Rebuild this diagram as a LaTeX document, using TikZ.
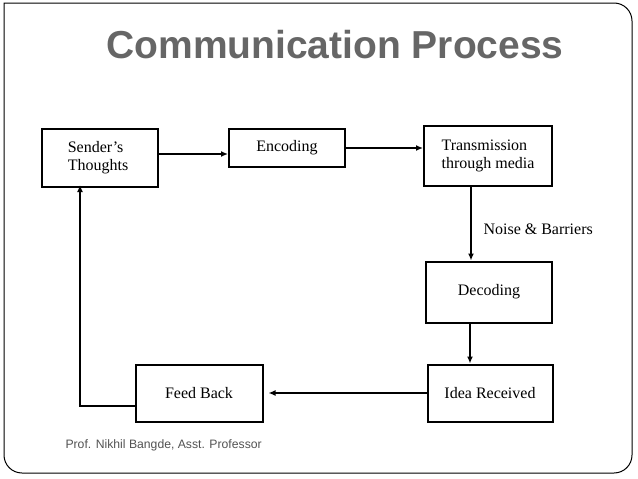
\documentclass[tikz,border=0pt]{standalone}
\usepackage{fontspec}
\setmainfont{Liberation Serif}
\newfontfamily\arial{Liberation Sans}
\usetikzlibrary{arrows.meta}
\definecolor{titlegray}{HTML}{666666}
\begin{document}
\begin{tikzpicture}[x=1pt,y=-1pt,
  boxn/.style={draw,line width=2pt,minimum width=#1,align=left,font=\fontsize{16}{18}\selectfont,inner sep=0pt},
  conn/.style={line width=1.4pt,-{Latex[length=7pt,width=6pt]}}]
\useasboundingbox (0,0) rectangle (638,479);
\draw[line width=1pt] (4,240) -- (4,3) -- (612,3) [rounded corners=18] -- (632,3) -- (632,473) -- (4,473) -- (4,240);
\node[font=\arial\bfseries\fontsize{39}{43}\selectfont,text=titlegray] (t) at (335,45) {Communication Process};
\node[boxn=116pt,minimum height=58pt] (s) at (100,158) {\hspace*{22pt}\begin{tabular}{@{}l@{}}Sender's\\Thoughts\end{tabular}\hspace*{26pt}};
\node[boxn=116pt,minimum height=38pt,align=center] (e) at (287,148) {Encoding};
\node[boxn=128pt,minimum height=60pt] (tr) at (488,156) {Transmission\\through media};
\node[boxn=126pt,minimum height=61pt,align=center] (d) at (489,292) {Decoding};
\node[boxn=125pt,minimum height=57pt,align=center] (i) at (490,393) {Idea Received};
\node[boxn=127pt,minimum height=57pt,align=center] (f) at (199,393) {Feed Back};
\node[font=\fontsize{16}{18}\selectfont,anchor=west] (n) at (480,229) {Noise \& Barriers};
\node[font=\arial\fontsize{12.2}{14}\selectfont,text=titlegray!80!black,anchor=west] (p) at (62,445) {Prof. Nikhil Bangde, Asst. Professor};
\draw[conn] (s.east) ++(0,-4) coordinate (s1) -- (s1 -| e.west);
\draw[conn] (e.east) -- (e.east -| tr.west);
\draw[conn] (tr.south -| 471,0) -- (d.north -| 471,0);
\draw[conn] (d.south -| 470,0) -- (i.north -| 470,0);
\draw[conn] (i.west) -- ([xshift=5pt]f.east);
\draw[conn] (f.west) ++(0,13) coordinate (f1) -- (80,406) -- ([yshift=3pt]s.south -| 80,0) coordinate (s2);
\end{tikzpicture}
\end{document}
